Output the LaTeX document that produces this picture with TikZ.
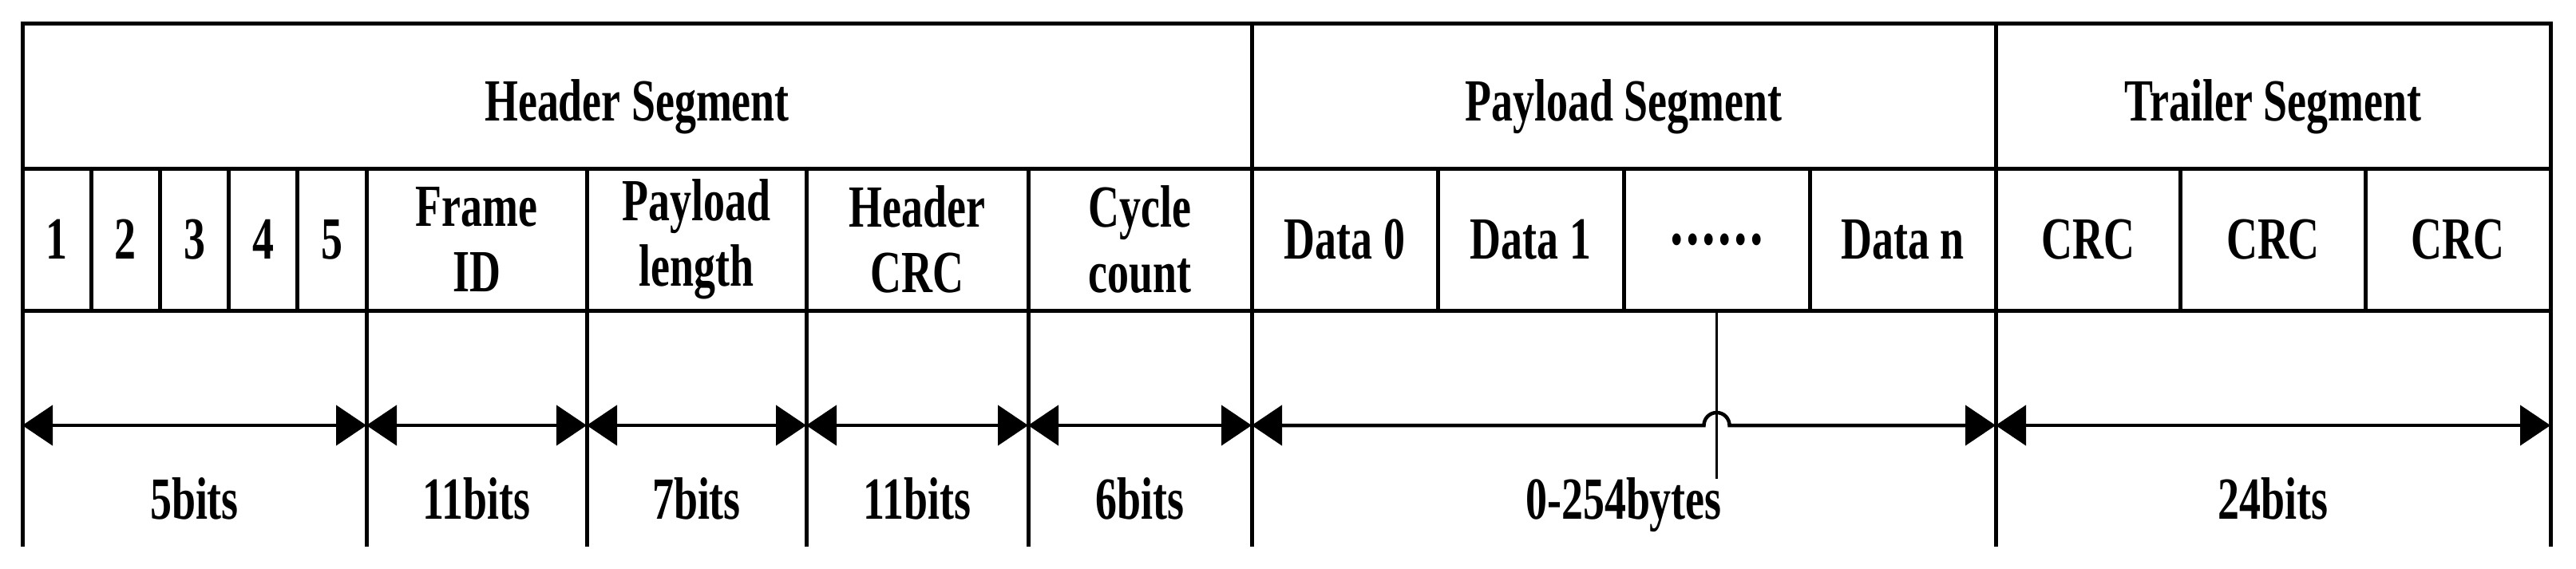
\documentclass[tikz,border=0pt]{standalone}
\usepackage{fontspec}
\setmainfont{Liberation Serif}[FakeStretch=0.72]
\usetikzlibrary{positioning,arrows.meta}

\tikzset{
  cellbox/.style={draw, line width=0.05cm, minimum height=1.78cm, inner sep=0pt, outer sep=0pt,
    align=center, font=\bfseries\fontsize{21.3}{23.3}\selectfont},
  segbox/.style={cellbox, minimum height=1.82cm, text height=0.62cm, text depth=0pt},
  dimline/.style={line width=0.045cm,
    {Triangle[length=0.38cm,width=0.5cm]}-{Triangle[length=0.38cm,width=0.5cm]}},
  sizelabel/.style={anchor=base, yshift=-1.17cm, font=\bfseries\fontsize{21.3}{23.3}\selectfont},
}

\begin{document}
\begin{tikzpicture}[line width=0.05cm]
 \useasboundingbox (0,0) rectangle (32.27,7.12);
 % field row
 \node[cellbox, minimum width=0.862cm, anchor=north west] (b1) at (0.28,5.01) {1};
 \node[cellbox, minimum width=0.862cm, right=0pt of b1] (b2) {2};
 \node[cellbox, minimum width=0.862cm, right=0pt of b2] (b3) {3};
 \node[cellbox, minimum width=0.862cm, right=0pt of b3] (b4) {4};
 \node[cellbox, minimum width=0.862cm, right=0pt of b4] (b5) {5};
 \node[cellbox, minimum width=2.76cm, right=0pt of b5] (frame) {Frame\\ID};
 \node[cellbox, minimum width=2.75cm, right=0pt of frame] (len) {Payload\\length};
 \node[cellbox, minimum width=2.78cm, right=0pt of len] (hcrc) {Header\\CRC};
 \node[cellbox, minimum width=2.80cm, right=0pt of hcrc] (cyc) {Cycle\\count};
 \node[cellbox, minimum width=2.33cm, right=0pt of cyc] (d0) {Data 0};
 \node[cellbox, minimum width=2.33cm, right=0pt of d0] (d1) {Data 1};
 \node[cellbox, minimum width=2.33cm, right=0pt of d1,
       font=\bfseries\fontsize{26}{26}\selectfont\addfontfeature{LetterSpace=4}] (dots) {......};
 \node[cellbox, minimum width=2.33cm, right=0pt of dots] (dn) {Data n};
 \node[cellbox, minimum width=2.3167cm, right=0pt of dn] (crc1) {CRC};
 \node[cellbox, minimum width=2.3167cm, right=0pt of crc1] (crc2) {CRC};
 \node[cellbox, minimum width=2.3167cm, right=0pt of crc2] (crc3) {CRC};
 % segment row
 \node[segbox, minimum width=15.40cm, anchor=south west] (header) at (b1.north west) {Header Segment};
 \node[segbox, minimum width=9.32cm, right=0pt of header] (payload) {Payload Segment};
 \node[segbox, minimum width=6.95cm, right=0pt of payload] (trailer) {Trailer Segment};
 % size rows
 \coordinate (bottomrow) at (0,0.27);
 \coordinate (arrowrow) at (0,1.79);
 \foreach \c in {b1.south west, frame.south west, len.south west, hcrc.south west,
                 cyc.south west, d0.south west, crc1.south west, crc3.south east}
  \draw (\c) -- (\c |- bottomrow);
 \coordinate (a0) at (b1.south west |- arrowrow);
 \coordinate (a1) at (frame.south west |- arrowrow);
 \coordinate (a2) at (len.south west |- arrowrow);
 \coordinate (a3) at (hcrc.south west |- arrowrow);
 \coordinate (a4) at (cyc.south west |- arrowrow);
 \coordinate (a5) at (d0.south west |- arrowrow);
 \coordinate (a6) at (crc1.south west |- arrowrow);
 \coordinate (a7) at (crc3.south east |- arrowrow);
 \coordinate (hop) at (dots.south |- arrowrow);
 \coordinate (dotsend) at ([yshift=-2.11cm]dots.south);
 \draw[line width=0.03cm] (dots.south) -- (dotsend);
 \draw[dimline] (a0) -- node[sizelabel] (w1) {5bits} (a1);
 \draw[dimline] (a1) -- node[sizelabel] (w2) {11bits} (a2);
 \draw[dimline] (a2) -- node[sizelabel] (w3) {7bits} (a3);
 \draw[dimline] (a3) -- node[sizelabel] (w4) {11bits} (a4);
 \draw[dimline] (a4) -- node[sizelabel] (w5) {6bits} (a5);
 \draw[dimline] (a5) -- ([xshift=-0.16cm]hop) arc[start angle=180, end angle=0, radius=0.16cm] -- (a6);
 \path (a5) -- node[sizelabel] (w6) {0-254bytes} (a6);
 \draw[dimline] (a6) -- node[sizelabel] (w7) {24bits} (a7);
\end{tikzpicture}
\end{document}
